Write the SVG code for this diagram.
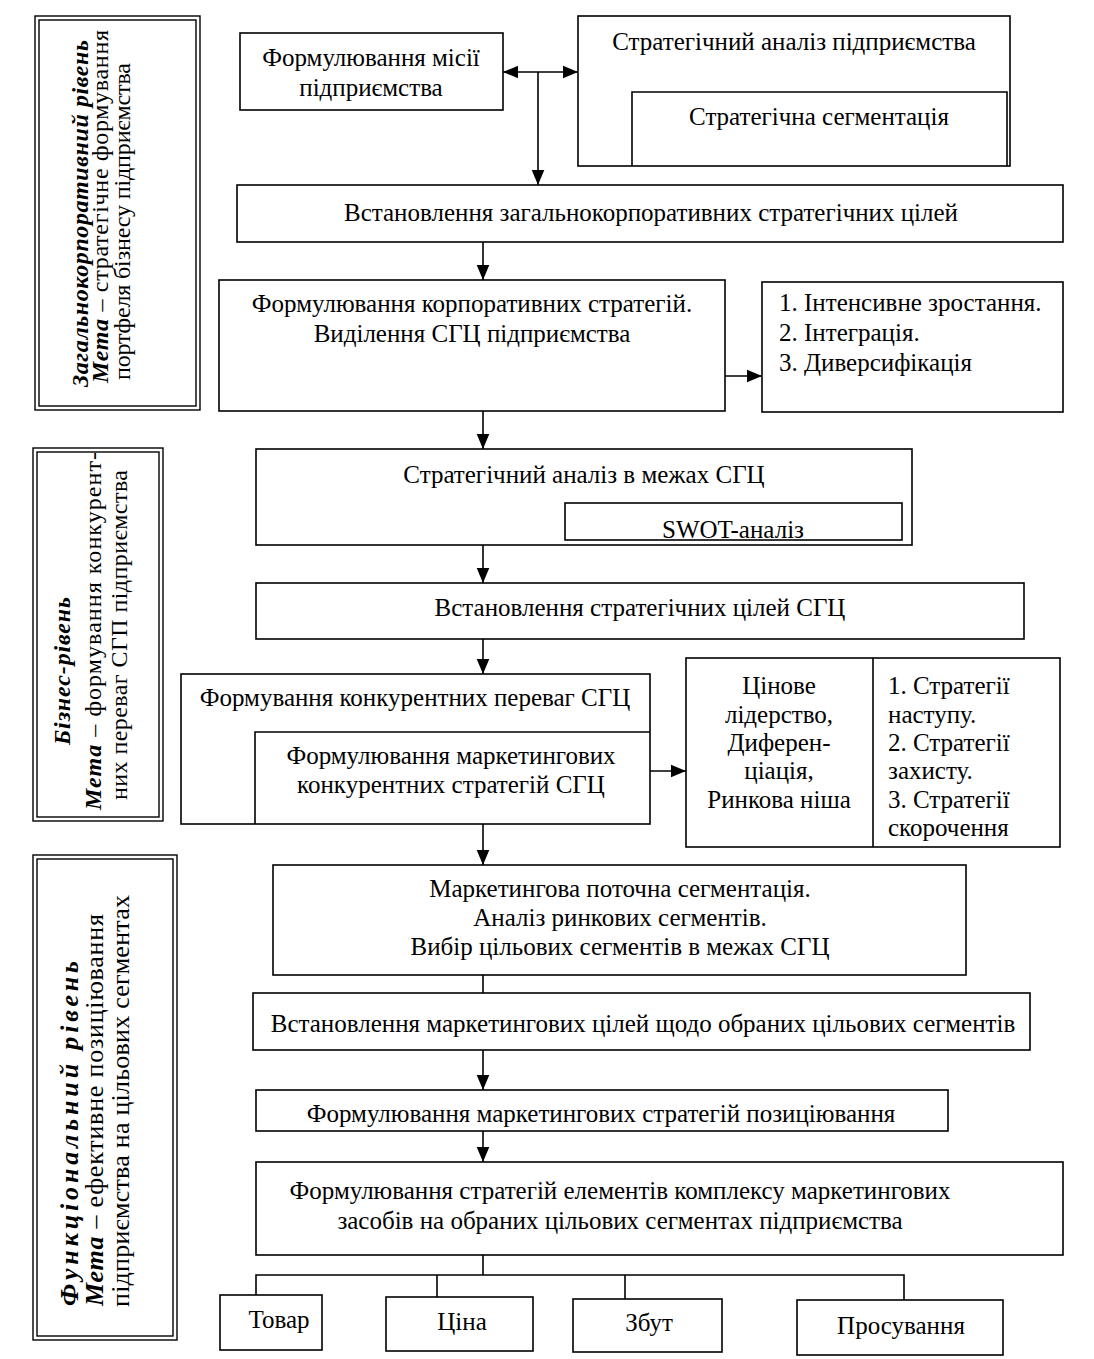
<svg xmlns="http://www.w3.org/2000/svg" width="1094" height="1359" viewBox="0 0 1094 1359">
<style>
.b{fill:none;stroke:#000;stroke-width:1.6}
.bp{fill:none;stroke:#000;stroke-width:1.4}
.l{fill:none;stroke:#000;stroke-width:1.6}
.t{font-family:"Liberation Serif","Times New Roman",serif;font-size:25px;fill:#000}
.p{font-family:"Liberation Serif","Times New Roman",serif;font-size:24px;fill:#000}
.p3{font-family:"Liberation Serif","Times New Roman",serif;font-size:26px;fill:#000}
.c{text-anchor:middle}
.bi{font-weight:bold;font-style:italic}
</style>
<defs>
<marker id="ah" viewBox="0 0 10 10" refX="10" refY="5" markerWidth="15" markerHeight="15" markerUnits="userSpaceOnUse" orient="auto-start-reverse"><path d="M0,0.8 L10,5 L0,9.2 z" fill="#000"/></marker>
</defs>
<rect width="1094" height="1359" fill="#fff"/>

<g id="panel-corporate">
<rect class="bp" x="35" y="16" width="165" height="394"/>
<rect class="bp" x="39" y="20" width="157" height="386"/>
<text class="p bi" transform="translate(88,387) rotate(-90)" textLength="347" lengthAdjust="spacing">Загальнокорпоративний рівень</text>
<text class="p" transform="translate(108,383) rotate(-90)" textLength="353" lengthAdjust="spacing"><tspan class="bi">Мета</tspan> – стратегічне  формування</text>
<text class="p" transform="translate(130,380) rotate(-90)" textLength="317" lengthAdjust="spacing">портфеля бізнесу підприємства</text>
</g>

<g id="panel-business">
<rect class="bp" x="33" y="448" width="130" height="373"/>
<rect class="bp" x="37" y="452" width="122" height="365"/>
<text class="p bi" transform="translate(70,745) rotate(-90)" textLength="148" lengthAdjust="spacing">Бізнес-рівень</text>
<text class="p" transform="translate(101,810) rotate(-90)" textLength="358" lengthAdjust="spacing"><tspan class="bi">Мета</tspan> – формування конкурент-</text>
<text class="p" transform="translate(127,800) rotate(-90)" textLength="330" lengthAdjust="spacing">них переваг СГП підприємства</text>
</g>

<g id="panel-functional">
<rect class="bp" x="33" y="855" width="144" height="485"/>
<rect class="bp" x="37" y="859" width="136" height="477"/>
<text class="p3 bi" transform="translate(78,1306) rotate(-90)" textLength="345" lengthAdjust="spacing">Функціональний рівень</text>
<text class="p3" transform="translate(103,1306) rotate(-90)" textLength="392" lengthAdjust="spacing"><tspan class="bi">Мета</tspan> – ефективне позиціювання</text>
<text class="p3" transform="translate(129,1307) rotate(-90)" textLength="412" lengthAdjust="spacing">підприємства на цільових сегментах</text>
</g>

<g id="connectors">
<line class="l" x1="503" y1="72" x2="578" y2="72" marker-start="url(#ah)" marker-end="url(#ah)"/>
<line class="l" x1="538" y1="72" x2="538" y2="185" marker-end="url(#ah)"/>
<line class="l" x1="483" y1="242" x2="483" y2="280" marker-end="url(#ah)"/>
<line class="l" x1="725" y1="376" x2="762" y2="376" marker-end="url(#ah)"/>
<line class="l" x1="483" y1="411" x2="483" y2="449" marker-end="url(#ah)"/>
<line class="l" x1="483" y1="545" x2="483" y2="583" marker-end="url(#ah)"/>
<line class="l" x1="483" y1="639" x2="483" y2="674" marker-end="url(#ah)"/>
<line class="l" x1="650" y1="771" x2="686" y2="771" marker-end="url(#ah)"/>
<line class="l" x1="483" y1="824" x2="483" y2="865" marker-end="url(#ah)"/>
<line class="l" x1="483" y1="975" x2="483" y2="993"/>
<line class="l" x1="483" y1="1050" x2="483" y2="1090" marker-end="url(#ah)"/>
<line class="l" x1="483" y1="1131" x2="483" y2="1162" marker-end="url(#ah)"/>
<polyline class="l" points="483,1255 483,1275"/>
<polyline class="l" points="256,1295 256,1275 904,1275 904,1300"/>
<line class="l" x1="437" y1="1275" x2="437" y2="1297"/>
<line class="l" x1="625" y1="1275" x2="625" y2="1299"/>
</g>

<g id="n-mission">
<rect class="b" x="240" y="33" width="263" height="77"/>
<text class="t c" x="371" y="66">Формулювання місії</text>
<text class="t c" x="371" y="96">підприємства</text>
</g>

<g id="n-analysis">
<rect class="b" x="578" y="16" width="432" height="150"/>
<text class="t c" x="794" y="50">Стратегічний аналіз підприємства</text>
</g>
<g id="n-segmentation">
<polyline class="b" points="632,166 632,92 1007,92 1007,166"/>
<text class="t c" x="819" y="125">Стратегічна сегментація</text>
</g>

<g id="n-corp-goals">
<rect class="b" x="237" y="185" width="826" height="57"/>
<text class="t c" x="651" y="221">Встановлення загальнокорпоративних стратегічних цілей</text>
</g>

<g id="n-corp-strategies">
<rect class="b" x="219" y="280" width="506" height="131"/>
<text class="t c" x="472" y="312">Формулювання корпоративних стратегій.</text>
<text class="t c" x="472" y="342">Виділення СГЦ підприємства</text>
</g>

<g id="n-corp-list">
<rect class="b" x="762" y="282" width="301" height="130"/>
<text class="t" x="779" y="311">1. Інтенсивне зростання.</text>
<text class="t" x="779" y="341">2. Інтеграція.</text>
<text class="t" x="779" y="371">3. Диверсифікація</text>
</g>

<g id="n-sbu-analysis">
<rect class="b" x="256" y="449" width="656" height="96"/>
<text class="t c" x="584" y="483">Стратегічний аналіз в межах СГЦ</text>
</g>
<g id="n-swot">
<rect class="b" x="565" y="503" width="337" height="37"/>
<text class="t c" x="733" y="538">SWOT-аналіз</text>
</g>

<g id="n-sbu-goals">
<rect class="b" x="256" y="583" width="768" height="56"/>
<text class="t c" x="640" y="616">Встановлення стратегічних цілей СГЦ</text>
</g>

<g id="n-competitive">
<rect class="b" x="181" y="674" width="469" height="150"/>
<text class="t c" x="415" y="706">Формування конкурентних переваг СГЦ</text>
</g>
<g id="n-comp-strategies">
<polyline class="b" points="255,824 255,732 650,732"/>
<text class="t c" x="451" y="764">Формулювання маркетингових</text>
<text class="t c" x="451" y="793">конкурентних стратегій СГЦ</text>
</g>

<g id="n-generic">
<rect class="b" x="686" y="658" width="374" height="189"/>
<line class="b" x1="873" y1="658" x2="873" y2="847"/>
<text class="t c" x="779" y="694">Цінове</text>
<text class="t c" x="779" y="723">лідерство,</text>
<text class="t c" x="779" y="751">Диферен-</text>
<text class="t c" x="779" y="779">ціація,</text>
<text class="t c" x="779" y="808">Ринкова ніша</text>
</g>
<g id="n-comp-list">
<text class="t" x="888" y="694">1. Стратегії</text>
<text class="t" x="888" y="723">наступу.</text>
<text class="t" x="888" y="751">2. Стратегії</text>
<text class="t" x="888" y="779">захисту.</text>
<text class="t" x="888" y="808">3. Стратегії</text>
<text class="t" x="888" y="836">скорочення</text>
</g>

<g id="n-segmentation-market">
<rect class="b" x="273" y="865" width="693" height="110"/>
<text class="t c" x="620" y="897">Маркетингова поточна сегментація.</text>
<text class="t c" x="620" y="926">Аналіз ринкових сегментів.</text>
<text class="t c" x="620" y="955">Вибір цільових сегментів в межах СГЦ</text>
</g>

<g id="n-marketing-goals">
<rect class="b" x="253" y="993" width="777" height="57"/>
<text class="t c" x="643" y="1032">Встановлення маркетингових цілей щодо обраних цільових сегментів</text>
</g>

<g id="n-positioning">
<rect class="b" x="256" y="1090" width="692" height="41"/>
<text class="t c" x="601" y="1122">Формулювання маркетингових стратегій позиціювання</text>
</g>

<g id="n-mix">
<rect class="b" x="256" y="1162" width="807" height="93"/>
<text class="t c" x="620" y="1199">Формулювання стратегій елементів комплексу маркетингових</text>
<text class="t c" x="620" y="1229">засобів на обраних цільових сегментах підприємства</text>
</g>

<g id="n-product">
<rect class="b" x="220" y="1295" width="102" height="55"/>
<text class="t c" x="279" y="1328">Товар</text>
</g>
<g id="n-price">
<rect class="b" x="386" y="1297" width="147" height="54"/>
<text class="t c" x="462" y="1330">Ціна</text>
</g>
<g id="n-place">
<rect class="b" x="573" y="1299" width="149" height="53"/>
<text class="t c" x="649" y="1331">Збут</text>
</g>
<g id="n-promotion">
<rect class="b" x="797" y="1300" width="206" height="55"/>
<text class="t c" x="901" y="1334">Просування</text>
</g>
</svg>
